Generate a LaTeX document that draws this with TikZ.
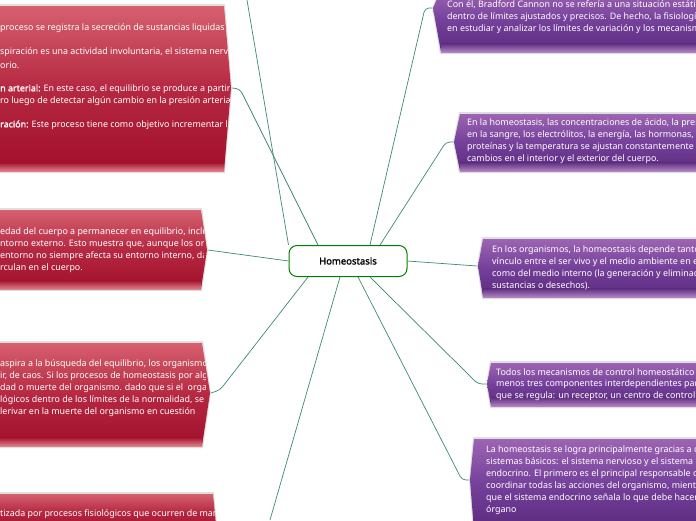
\documentclass[tikz,border=0pt]{standalone}
\usepackage{fontspec}
\setmainfont{Noto Sans}
\newfontfamily\fbold{Noto Sans}[FakeBold=1.6]
\begin{document}
\begin{tikzpicture}[x=1pt,y=-1pt,
  txt/.style={anchor=west,text=white,font=\fontsize{8.9}{12}\selectfont,inner sep=0pt},
  conn/.style={draw=linec,line width=0.7pt,rounded corners=4pt}]
\definecolor{linec}{HTML}{3E8A6C}
\definecolor{rtop}{HTML}{D6606F}\definecolor{rmid}{HTML}{B52841}\definecolor{rbot}{HTML}{A20F2A}
\definecolor{ptop}{HTML}{9C64B2}\definecolor{pmid}{HTML}{74409A}\definecolor{pbot}{HTML}{5B2A7E}
\useasboundingbox (0,0) rectangle (696,520);
\fill[white] (0,0) rectangle (696,520);
\newcommand{\lbox}[5]{%
 \fill[gray!25] (-2,#1-2) -- (#3+1,#1-2) -- (#4+1,#5) -- (#3+1,#2+2) -- (-2,#2+2) -- cycle;
 \shade[top color=rtop,bottom color=rbot,middle color=rmid] (-2,#1) -- (#3,#1) -- (#4,#5) -- (#3,#2) -- (-2,#2) -- cycle;
 \shade[top color=rbot,bottom color=rtop!80] (-2,#2-9) -- (#3,#2-9) -- (#3,#2) -- (-2,#2) -- cycle;}
\newcommand{\rbox}[5]{%
 \fill[gray!25] (698,#1-2) -- (#3-1,#1-2) -- (#4-1,#5) -- (#3-1,#2+2) -- (698,#2+2) -- cycle;
 \shade[top color=ptop,bottom color=pbot,middle color=pmid] (698,#1) -- (#3,#1) -- (#4,#5) -- (#3,#2) -- (698,#2) -- cycle;
 \shade[top color=pbot,bottom color=ptop!80] (698,#2-9) -- (#3,#2-9) -- (#3,#2) -- (698,#2) -- cycle;}
\lbox{6}{171}{224}{231}{88}
\lbox{210}{289}{201}{207}{250}
\lbox{343}{446}{202}{210}{393}
\lbox{494}{530}{213}{216}{525}
\rbox{-10}{52}{441}{433}{8}
\rbox{114}{171}{460}{454}{142}
\rbox{239}{297}{483}{478}{266}
\rbox{363}{406}{491}{487}{384}
\rbox{439}{530}{474}{470}{480}
\coordinate (l1) at (232,88); \coordinate (l2) at (208,250); \coordinate (l3) at (211,393); \coordinate (l4) at (270,520); \coordinate (l0) at (247,0);
\coordinate (r1) at (432,8); \coordinate (r2) at (453,142); \coordinate (r3) at (477,266); \coordinate (r4) at (486,384); \coordinate (r5) at (469,480);
\node[draw=green!50!black,line width=1pt,fill=white,rounded corners=8pt,minimum width=118pt,minimum height=31pt,font=\fbold\fontsize{9.5}{11}\selectfont] (h) at (348,261) {Homeostasis};
\draw[conn] (l0) -- (h.north west);
\draw[conn] (l1) -- (240,89) -- ([xshift=-30pt]h.north);
\draw[conn] (l2) -- (h.west);
\draw[conn] (l3) -- (220,390) -- ([xshift=-40pt]h.south);
\draw[conn] (l4) -- ([xshift=-8pt]h.south);
\draw[conn] (r1) -- (425,8) -- ([xshift=22pt]h.north);
\draw[conn] (r2) -- (446,142) -- ([xshift=32pt]h.north);
\draw[conn] (r3) -- (h.east);
\draw[conn] (r4) -- (478,384) -- ([xshift=22pt]h.south);
\draw[conn] (r5) -- (462,480) -- ([xshift=10pt]h.south);
\begin{scope}
\clip (0,0) -- (224,0) -- (230,88) -- (224,171) -- (0,171) -- cycle;
\node[txt] (t1a) at (0,28) {proceso se registra la secreción de sustancias liquidas y};
\node[txt] (t1b) at (0,52) {spiración es una actividad involuntaria, el sistema nervioso};
\node[txt] (t1c) at (0,65) {orio.};
\node[txt] (t1d) at (0,89) {{\fbold n arterial:} En este caso, el equilibrio se produce a partir};
\node[txt] (t1e) at (0,101) {ro luego de detectar algún cambio en la presión arterial};
\node[txt] (t1f) at (0,125) {{\fbold ración:} Este proceso tiene como objetivo incrementar la};
\end{scope}
\begin{scope}
\clip (0,205) rectangle (203,295);
\node[txt] at (0,232) {edad del cuerpo a permanecer en equilibrio, incluso};
\node[txt] at (0,244) {ntorno externo. Esto muestra que, aunque los organismos};
\node[txt] at (0,256) {entorno no siempre afecta su entorno interno, da};
\node[txt] at (0,268) {rculan en el cuerpo.};
\end{scope}
\begin{scope}
\clip (0,340) rectangle (205,450);
\node[txt] at (0,364) {aspira a la búsqueda del equilibrio, los organismos};
\node[txt] at (0,376) {ir, de caos. Si los procesos de homeostasis por algún};
\node[txt] at (0,388) {dad o muerte del organismo. dado que si el\ \ organismo};
\node[txt] at (0,400) {lógicos dentro de los límites de la normalidad, se};
\node[txt] at (0,412) {lerivar en la muerte del organismo en cuestión};
\end{scope}
\begin{scope}
\clip (0,490) rectangle (216,520);
\node[txt] at (0,514) {tizada por procesos fisiológicos que ocurren de manera};
\end{scope}
\node[txt] at (447,5) {Con él, Bradford Cannon no se refería a una situación estática};
\node[txt] at (447,17) {dentro de límites ajustados y precisos. De hecho, la fisiología};
\node[txt] at (447,29) {en estudiar y analizar los límites de variación y los mecanismos};
\node[txt] at (467,123) {En la homeostasis, las concentraciones de ácido, la presión};
\node[txt] at (467,135) {en la sangre, los electrólitos, la energía, las hormonas, las};
\node[txt] at (467,147) {proteínas y la temperatura se ajustan constantemente a los};
\node[txt] at (467,159) {cambios en el interior y el exterior del cuerpo.};
\node[txt] at (492,250) {En los organismos, la homeostasis depende tanto del};
\node[txt] at (492,262) {vínculo entre el ser vivo y el medio ambiente en el que vive,};
\node[txt] at (492,274) {como del medio interno (la generación y eliminación de};
\node[txt] at (492,286) {sustancias o desechos).};
\node[txt] at (496,372) {Todos los mecanismos de control homeostático tienen al};
\node[txt] at (496,384) {menos tres componentes interdependientes para la variable};
\node[txt] at (496,396) {que se regula: un receptor, un centro de control y un efector.};
\node[txt] at (486,450) {La homeostasis se logra principalmente gracias a dos};
\node[txt] at (486,462) {sistemas básicos: el sistema nervioso y el sistema};
\node[txt] at (486,474) {endocrino. El primero es el principal responsable de};
\node[txt] at (486,486) {coordinar todas las acciones del organismo, mientras};
\node[txt] at (486,498) {que el sistema endocrino señala lo que debe hacer cada};
\node[txt] at (486,510) {órgano};
\end{tikzpicture}
\end{document}
